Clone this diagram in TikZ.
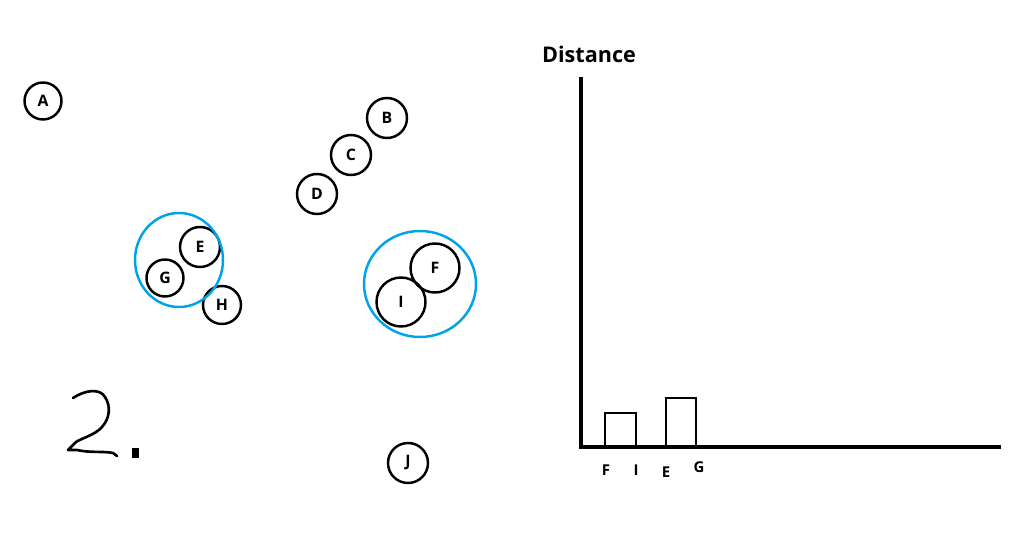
\documentclass[tikz,border=0pt]{standalone}
\usepackage{fontspec}
\setmainfont{Open Sans}
\definecolor{paintblue}{RGB}{0,162,232}
\tikzset{
  vertex/.style={draw, circle, line width=1.4pt, inner sep=0pt,
    minimum size=0.8cm, font=\bfseries\fontsize{9}{10}\selectfont},
  cluster/.style={draw=paintblue, line width=1.4pt},
  axis/.style={line width=2.3pt},
  bar/.style={line width=1.4pt},
  tick/.style={font=\bfseries\fontsize{8.5}{9}\selectfont},
  hand/.style={line width=1.5pt, line cap=round, line join=round}
}
\begin{document}
\begin{tikzpicture}[x=0.02cm, y=-0.02cm]
            \useasboundingbox (0,0) rectangle (1020,536);

            % points
            \node[vertex, minimum size=0.74cm] (A) at (43,101) {A};
            \node[vertex] (B) at (387,118) {B};
            \node[vertex] (C) at (351,155) {C};
            \node[vertex] (D) at (317,194) {D};
            \node[vertex] (E) at (200,247) {E};
            \node[vertex, minimum size=0.74cm] (G) at (165,278) {G};
            \node[vertex, minimum size=0.76cm] (H) at (222,305) {H};
            \node[vertex, minimum size=0.98cm] (F) at (435,268) {F};
            \node[vertex, minimum size=0.98cm] (I) at (401,302) {I};
            \node[vertex] (J) at (408,463) {J};

            % clusters
            \draw[cluster] (179,260) ellipse (44 and 47);
            \draw[cluster] (420,284) ellipse (56 and 53);

            % handwritten step number
            \draw[hand] (73,398) .. controls (85,390) and (100,388) .. (105,397)
                        .. controls (111,406) and (110,418) .. (102,427)
                        .. controls (95,435) and (82,438) .. (76,442)
                        -- (68,450) -- (77,450)
                        .. controls (90,453) and (103,451) .. (113,453) -- (117,456);
            \fill (132,448) rectangle (139,458);

            % dendrogram
            \coordinate (O) at (581,447);
            \coordinate (top) at (581,77);
            \coordinate (end) at (1001,447);
            \draw[axis] (top) -- (O) -- (end);
            \node[font=\bfseries\fontsize{12.3}{14}\selectfont] (dist) at (589,54) {Distance};

            \draw[bar] (605,447) -- (605,413) -- (636,413) -- (636,447);
            \draw[bar] (666,447) -- (666,398) -- (696,398) -- (696,447);

            \node[tick] (tF) at (606,470) {F};
            \node[tick] (tI) at (636,470) {I};
            \node[tick] (tE) at (666,472) {E};
            \node[tick] (tG) at (699,467) {G};
        \end{tikzpicture}
\end{document}
